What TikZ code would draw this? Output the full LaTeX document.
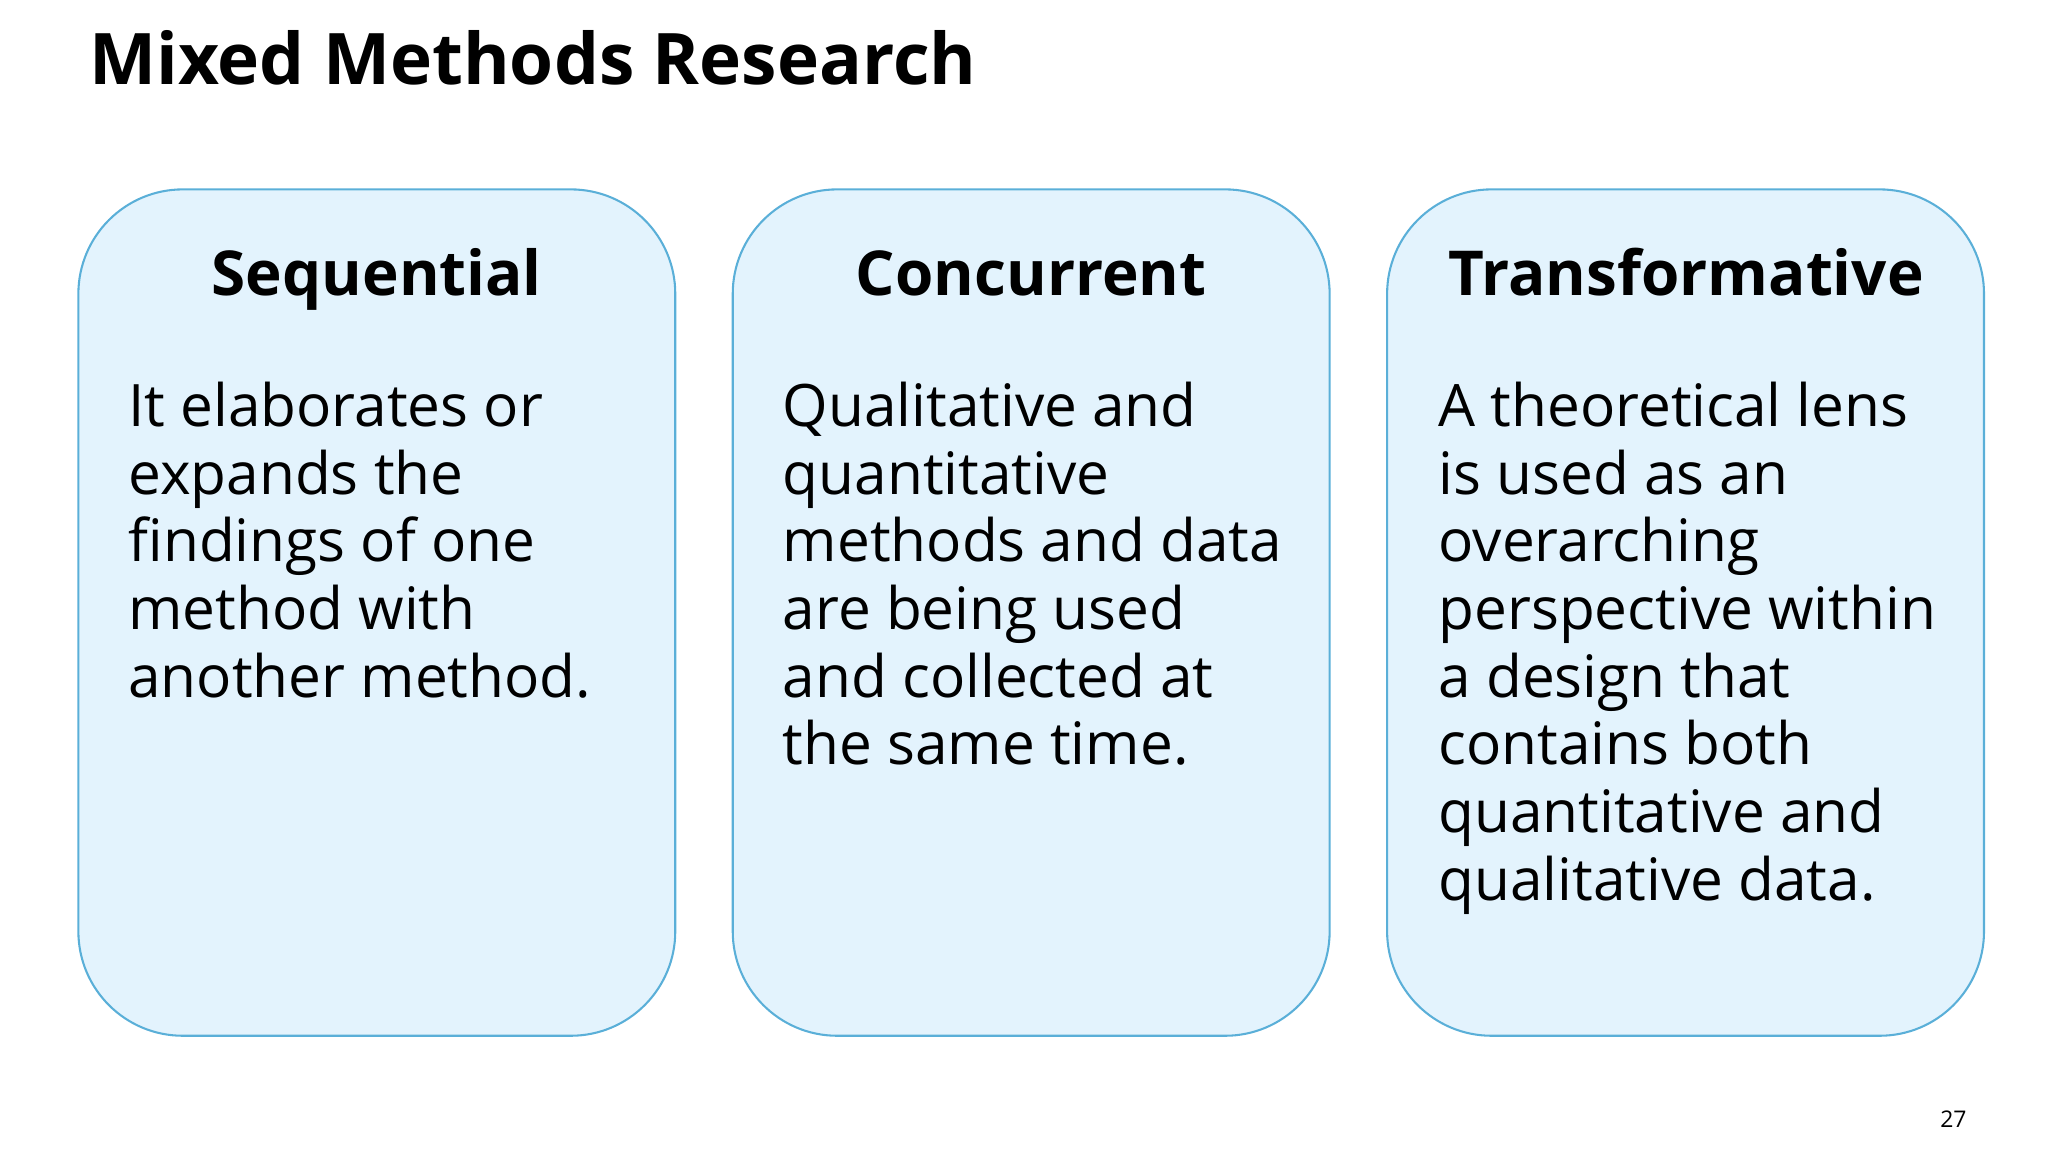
\documentclass[tikz,border=0pt]{standalone}
\usepackage{fontspec}
\setmainfont{Open Sans}
\definecolor{boxfill}{HTML}{E3F3FD}
\definecolor{boxline}{HTML}{5AAFD8}
\begin{document}
\begin{tikzpicture}[x=0.02cm,y=-0.02cm,
  card/.style={draw=boxline,line width=0.9pt,fill=boxfill,rounded corners=1.6cm},
  head/.style={font=\fontsize{27}{32}\selectfont\bfseries,anchor=base},
  body/.style={font=\fontsize{25.5}{29.5}\selectfont,anchor=north west,align=left,inner sep=0pt}]
\useasboundingbox (0,0) rectangle (1568,882);
\node[font=\fontsize{31}{36}\selectfont\bfseries,anchor=base west,inner sep=0pt] (title) at (68,65) {Mixed Methods Research};
\foreach \x/\n in {60/a,561/b,1062/c}{
  \draw[card] (\x,145) rectangle ++(457,648);
}
\node[head] (ha) at (288.5,226) {Sequential};
\node[head] (hb) at (789.5,226) {Concurrent};
\node[head] (hc) at (1291,226) {Transformative};
\node[body] (ta) at (98,292) {It elaborates or\\expands the\\findings of one\\method with\\another method.};
\node[body] (tb) at (599,292) {Qualitative and\\quantitative\\methods and data\\are being used\\and collected at\\the same time.};
\node[body] (tc) at (1101,292) {A theoretical lens\\is used as an\\overarching\\perspective within\\a design that\\contains both\\quantitative and\\qualitative data.};
\node[font=\fontsize{10}{12}\selectfont,anchor=base east,inner sep=0pt] (pg) at (1506,863) {27};
\end{tikzpicture}
\end{document}
